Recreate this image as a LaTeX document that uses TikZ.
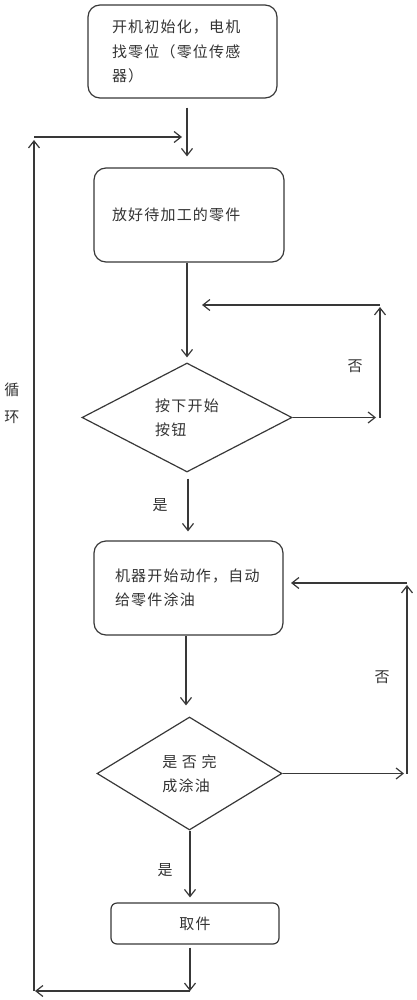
\documentclass[tikz,border=0pt]{standalone}
\usepackage{fontspec}
\newfontfamily\cjk[LetterSpace=8]{Noto Sans CJK SC}
\usetikzlibrary{shapes.geometric,arrows.meta,calc}
\definecolor{ln}{HTML}{383838}
\definecolor{tx}{HTML}{333333}
\tikzset{
  box/.style={draw=ln, line width=1.2pt, rounded corners=12pt, inner ysep=0pt, align=left, text=tx, font=\cjk\fontsize{15pt}{24.5pt}\selectfont},
  dia/.style={draw=ln, line width=1.2pt, diamond, aspect=1.9, inner sep=1pt, align=left, text=tx, font=\cjk\fontsize{15pt}{24pt}\selectfont},
  lbl/.style={text=tx, inner sep=0pt, align=center, font=\cjk\fontsize{15pt}{27pt}\selectfont},
  arr/.style={draw=ln, line width=1.2pt, -{Straight Barb[length=7pt,width=11pt]}}
}
\begin{document}
\begin{tikzpicture}[x=1pt,y=-1pt]
\useasboundingbox (0,0) rectangle (417,1000);
% boxes
\node[box, minimum width=189pt, minimum height=93pt, inner xsep=24pt, text width=141pt] (b1) at (182.5,51.5) {开机初始化，电机\\找零位（零位传感\\器）};
\node[box, minimum width=190pt, minimum height=94pt, inner xsep=18pt, text width=154pt] (b2) at (189,215) {放好待加工的零件};
\node[dia, minimum width=210pt, minimum height=109pt] (d1) at (187,417.5) {按下开始\\按钮};
\node[box, minimum width=189pt, minimum height=94pt, inner xsep=21pt, text width=147pt] (b3) at (188.5,588) {机器开始动作，自动\\给零件涂油};
\node[dia, minimum width=185pt, minimum height=113pt] (d2) at (189.5,773.5) {是 否 完\\成涂油};
\node[box, rounded corners=6pt, minimum width=168pt, minimum height=41pt, align=center] (b4) at (195,923.5) {取件};
% coordinates
\coordinate (c1) at (190,991);
\coordinate (c2) at (34,991);
\coordinate (c3) at (34,137);
\coordinate (c4) at (182,137);
\coordinate (r1b) at (380,417.5);
\coordinate (r1t) at (380,305);
\coordinate (r1e) at (202,305);
\coordinate (r2b) at (407,773.5);
\coordinate (r2t) at (407,583);
\coordinate (r2e) at (291,583);
% main flow
\draw[arr, shorten <=9pt, shorten >=11pt] ([xshift=4.5pt]b1.south) -- ([xshift=-2pt]b2.north);
\draw[arr, shorten >=5pt] ([xshift=-2pt]b2.south) -- (d1.north);
\draw[arr, shorten <=6pt, shorten >=9pt] ([xshift=1pt]d1.south) -- ([xshift=-0.5pt]b3.north);
\draw[arr, shorten >=11pt] ([xshift=-2.5pt]b3.south) -- ([xshift=-3.5pt]d2.north);
\draw[arr, shorten >=5pt] ([xshift=0.5pt]d2.south) -- ([xshift=-5pt]b4.north);
\draw[arr, shorten <=3pt] ([xshift=-5pt]b4.south) -- (c1);
% loop back
\draw[arr, shorten >=1pt] (c1) -- (c2);
\draw[arr, shorten >=3pt] (c2) -- (c3);
\draw[arr] (c3) -- (c4);
% no-loop 1
\draw[arr, shorten >=4pt] (d1.east) -- (r1b);
\draw[arr, shorten >=2pt] (r1b) -- (r1t);
\draw[arr] (r1t) -- (r1e);
% no-loop 2
\draw[arr, shorten >=3pt] (d2.east) -- (r2b);
\draw[arr, shorten >=2pt] (r2b) -- (r2t);
\draw[arr] (r2t) -- (r2e);
% labels
\node[lbl] (no1) at (355,366) {否};
\node[lbl] (no2) at (382,677) {否};
\node[lbl] (yes1) at (160,505) {是};
\node[lbl] (yes2) at (165,870) {是};
\node[lbl] (loop) at (12,403.5) {循\\环};
\end{tikzpicture}
\end{document}
